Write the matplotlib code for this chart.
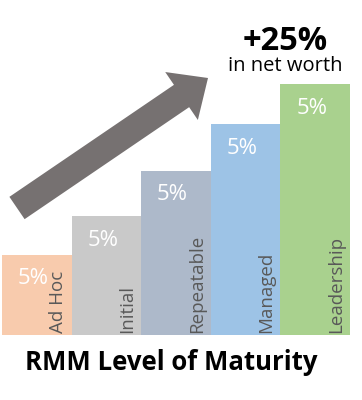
import matplotlib.pyplot as plt
from matplotlib.patches import FancyArrow

plt.rcParams['font.family'] = ['Open Sans', 'DejaVu Sans']

# maturity levels, bar heights (pixels of step height)
levels = ['Ad Hoc', 'Initial', 'Repeatable', 'Managed', 'Leadership']
heights = [80, 119, 164, 211, 251]
pct_labels = ['5%', '5%', '5%', '5%', '5%']
colors = ['#F8CBAD', '#C9C9C9', '#ADB9CA', '#9DC3E6', '#A9D18E']

W, H = 362, 400
fig = plt.figure(figsize=(W / 100, H / 100), dpi=100)

# bar axes: data units match pixels vertically
ax = fig.add_axes([2 / W, (H - 335) / H, 348 / W, 335 / H])
x = range(len(levels))
ax.bar(x, heights, width=1.0, color=colors, edgecolor='none')
ax.set_xlim(-0.5, len(levels) - 0.5)
ax.set_ylim(0, 335)
ax.axis('off')

for i, (h, p, name) in enumerate(zip(heights, pct_labels, levels)):
    ax.text(i - 0.05, h - 24, p, color='white', fontsize=16,
            ha='center', va='center')
    ax.text(i + 0.3, 2, name, color='#595959', fontsize=13.5, rotation=90,
            ha='center', va='bottom')

# overlay in pixel coordinates for the arrow and titles
ov = fig.add_axes([0, 0, 1, 1], zorder=-1)
ov.set_xlim(0, W)
ov.set_ylim(H, 0)
ov.axis('off')

arrow = FancyArrow(17, 208, 191, -130, width=27, head_width=58,
                   head_length=32, length_includes_head=True,
                   color='#767171', linewidth=0)
ov.add_patch(arrow)

ov.text(285, 41, '+25%', fontsize=23.5, fontweight='bold',
        ha='center', va='center', color='black')
ov.text(285, 66, 'in net worth', fontsize=14.5,
        ha='center', va='center', color='black')
ov.text(171, 362, 'RMM Level of Maturity', fontsize=18.5, fontweight='bold',
        ha='center', va='center', color='black')

fig.savefig('out.png', dpi=100)
